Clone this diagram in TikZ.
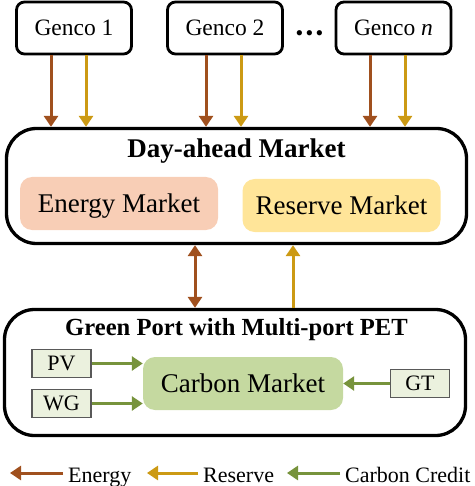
\documentclass[tikz,border=0pt]{standalone}
\usepackage{fontspec}
\setmainfont{Liberation Serif}
\usetikzlibrary{arrows.meta,positioning,calc}
\definecolor{energybrown}{RGB}{160,80,30}
\definecolor{reservegold}{RGB}{204,154,20}
\definecolor{creditgreen}{RGB}{119,147,60}
\definecolor{energyfill}{RGB}{248,206,182}
\definecolor{reservefill}{RGB}{255,229,153}
\definecolor{carbonfill}{RGB}{197,217,160}
\definecolor{sourcefill}{RGB}{235,241,222}

\begin{document}
\begin{tikzpicture}[x=1pt, y=-1pt,
  genco/.style={draw, line width=2.8pt, rounded corners=8pt, minimum width=115pt,
    minimum height=52pt, inner sep=0pt, text height=15.5pt, text depth=0pt,
    font=\fontsize{23.5}{28}\selectfont},
  market/.style={draw, line width=3.3pt, rounded corners=30pt},
  title/.style={anchor=base, font=\fontsize{27}{32}\selectfont\bfseries},
  submarket/.style={rounded corners=12pt, minimum width=198pt, minimum height=53pt,
    inner sep=0pt, text height=17.8pt, text depth=0pt, font=\fontsize{27}{32}\selectfont},
  source/.style={draw=black!65, fill=sourcefill, line width=1.4pt, minimum width=59pt,
    minimum height=28pt, inner sep=0pt, text height=14.5pt, text depth=0pt,
    font=\fontsize{22}{26}\selectfont},
  legend/.style={anchor=base west, inner xsep=5pt, inner ysep=0pt,
    font=\fontsize{22}{26}\selectfont},
  tip/.style={-{Triangle[length=11pt,width=14pt]}},
  energyarrow/.style={energybrown, line width=3pt, tip},
  reservearrow/.style={reservegold, line width=3pt, tip},
  creditarrow/.style={creditgreen, line width=3pt, tip}]
  \useasboundingbox (0,0) rectangle (474,486);

  % Gencos
  \node[genco] (g1) at (74,28) {Genco 1};
  \node[genco] (g2) at (225,28) {Genco 2};
  \node[genco] (gn) at (393.5,28) {Genco \textit{n}};
  \node[font=\fontsize{22}{26}\selectfont] (dots) at (309.5,36)
    {\textbullet\kern2.3pt\textbullet\kern2.3pt\textbullet};

  % Day-ahead market
  \node[market, minimum width=460pt, minimum height=115pt] (da) at (236.5,186) {};
  \node[title] (datitle) at (236.5,158) {Day-ahead Market};
  \node[submarket, fill=energyfill] (em) at (119,203.5) {Energy Market};
  \node[submarket, fill=reservefill] (rm) at (341.5,205.5) {Reserve Market};

  % Bids from gencos
  \foreach \g/\de/\dr in {g1/-23/12, g2/-19/16, gn/-23.5/11.5} {
    \draw[energyarrow] ([xshift=\de pt]\g.south) -- ([xshift=\de pt]\g.south |- da.north);
    \draw[reservearrow] ([xshift=\dr pt]\g.south) -- ([xshift=\dr pt]\g.south |- da.north);
  }

  % Green port
  \node[market, minimum width=461pt, minimum height=126pt] (gp) at (235,372.5) {};
  \node[title, font=\fontsize{24.6}{30}\selectfont\bfseries] (gptitle) at (236.5,335)
    {Green Port with Multi-port PET};
  \node[submarket, fill=carbonfill, minimum width=200pt] (cm) at (243,383.5)
    {Carbon Market};
  \node[source] (pv) at (61.5,363.5) {PV};
  \node[source] (wg) at (61.5,403.5) {WG};
  \node[source] (gt) at (420,383.5) {GT};

  % Port <-> market
  \draw[energyarrow, {Triangle[length=11pt,width=14pt]}-{Triangle[length=11pt,width=14pt]}]
    ([xshift=-41.5pt]da.south) -- ([xshift=-41.5pt]da.south |- gp.north);
  \draw[reservearrow] ([xshift=56.5pt]da.south |- gp.north) -- ([xshift=56.5pt]da.south);

  % Carbon credits
  \draw[creditarrow] (pv.east) -- (pv.east -| cm.west);
  \draw[creditarrow] (wg.east) -- (wg.east -| cm.west);
  \draw[creditarrow] (gt.west) -- (gt.west -| cm.east);

  % Legend
  \node[legend] (lenergy) at (63,482) {Energy};
  \node[legend] (lreserve) at (198,482) {Reserve};
  \node[legend] (lcredit) at (340,482) {Carbon Credit};
  \coordinate (lenergytip) at (10,473);
  \coordinate (lreservetip) at (147,473);
  \coordinate (lcredittip) at (287,473);
  \draw[energyarrow] (lenergy.west |- lenergytip) -- (lenergytip);
  \draw[reservearrow] (lreserve.west |- lreservetip) -- (lreservetip);
  \draw[creditarrow] (lcredit.west |- lcredittip) -- (lcredittip);
\end{tikzpicture}
\end{document}
